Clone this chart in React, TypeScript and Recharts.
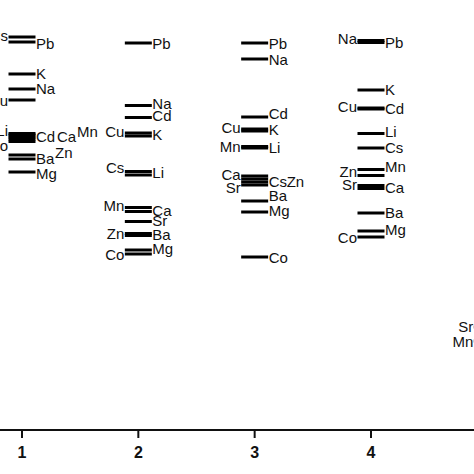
import React from 'react';
import { ScatterChart, Scatter, XAxis, YAxis } from 'recharts';

// x positions of the five groups
const GROUPS = [1, 2, 3, 4, 5];
const X_TICKS = [1, 2, 3, 4, 5];

// element order and relative level per group
const group1Elements = ['Cs', 'Pb', 'K', 'Na', 'Cu', 'Li', 'Mn', 'Cd', 'Ca', 'Co', 'Zn', 'Ba', 'Mg'];
const group1Values = [39.3, 38.8, 35.6, 34.1, 33.0, 29.65, 29.5, 29.3, 29.1, 28.85, 27.5, 27.1, 25.8];

const group2Elements = ['Pb', 'Na', 'Cd', 'Cu', 'K', 'Cs', 'Li', 'Mn', 'Ca', 'Sr', 'Zn', 'Ba', 'Mg', 'Co'];
const group2Values = [38.7, 32.45, 31.25, 29.7, 29.4, 25.85, 25.5, 22.25, 21.85, 20.85, 19.65, 19.45, 18.0, 17.6];

const group3Elements = ['Pb', 'Na', 'Cd', 'Cu', 'K', 'Mn', 'Li', 'Ca', 'Cs', 'Zn', 'Sr', 'Ba', 'Mg', 'Co'];
const group3Values = [38.7, 37.1, 31.3, 30.1, 29.9, 28.35, 28.2, 25.4, 25.1, 24.8, 24.5, 22.9, 21.8, 17.3];

const group4Elements = ['Na', 'Pb', 'K', 'Cu', 'Cd', 'Li', 'Cs', 'Mn', 'Zn', 'Sr', 'Ca', 'Ba', 'Mg', 'Co'];
const group4Values = [38.95, 38.75, 34.0, 32.2, 32.1, 29.65, 28.2, 26.05, 25.45, 24.45, 24.15, 21.7, 19.9, 19.3];

const group5Elements = ['Sr', 'Mn'];
const group5Values = [10.3, 8.9];

const groupElements = [group1Elements, group2Elements, group3Elements, group4Elements, group5Elements];
const groupValues = [group1Values, group2Values, group3Values, group4Values, group5Values];

// label placement: side + small nudges so crowded labels stay readable
type LabelPos = { side?: 'L' | 'R'; dx?: number; dy?: number };
const labelPos: Record<string, LabelPos> = {
  '1:Cs': { side: 'L', dy: -2 },
  '1:Pb': { dy: 1 },
  '1:K': { dy: -1 },
  '1:Na': { dy: -1 },
  '1:Cu': { side: 'L' },
  '1:Li': { side: 'L', dy: -3 },
  '1:Mn': { dx: 41, dy: -4 },
  '1:Cd': { dy: -1 },
  '1:Ca': { dx: 21, dy: -3 },
  '1:Co': { side: 'L', dy: 4 },
  '1:Zn': { dx: 19, dy: -3 },
  '1:Ba': { dy: -1 },
  '1:Mg': { dy: 1 },

  '2:Na': { dy: -2 },
  '2:Cd': { dy: -2 },
  '2:Cu': { side: 'L', dy: -2 },
  '2:K': { dy: -2 },
  '2:Cs': { side: 'L', dy: -4 },
  '2:Li': { dy: -3 },
  '2:Mn': { side: 'L', dy: -2 },
  '2:Ca': { dy: -1 },
  '2:Sr': { dy: -1 },
  '2:Zn': { side: 'L' },
  '2:Ba': { dy: -1 },
  '2:Mg': { dy: -2 },
  '2:Co': { side: 'L' },

  '3:Cd': { dy: -4 },
  '3:Cu': { side: 'L', dy: -2 },
  '3:K': { dy: -2 },
  '3:Mn': { side: 'L' },
  '3:Li': { dy: -1 },
  '3:Ca': { side: 'L', dy: -2 },
  '3:Cs': { dy: 2 },
  '3:Zn': { dx: 18, dy: -1 },
  '3:Sr': { side: 'L', dy: 2 },
  '3:Ba': { dy: -6 },
  '3:Mg': { dy: -2 },

  '4:Na': { side: 'L', dy: -2 },
  '4:K': { dy: -1 },
  '4:Cu': { side: 'L', dy: -2 },
  '4:Cd': { dy: -1 },
  '4:Li': { dy: -2 },
  '4:Cs': { dy: -1 },
  '4:Mn': { dy: -3 },
  '4:Zn': { side: 'L', dy: -4 },
  '4:Sr': { side: 'L', dy: -1 },
  '4:Ca': { dy: -1 },
  '4:Ba': { dy: -1 },
  '4:Mg': { dy: -2 },
  '4:Co': { side: 'L' },

  '5:Sr': { side: 'L', dy: -1 },
  '5:Mn': { side: 'L' },
};

const HALF = 13.5;
const FONT = 'Liberation Sans, Arial, sans-serif';

const Level = (props: any) => {
  const { cx, cy, payload } = props;
  if (cx == null || cy == null) return null;
  const pos = labelPos[`${payload.group}:${payload.name}`] || {};
  const side = pos.side || 'R';
  const dx = pos.dx || 0;
  const dy = pos.dy || 0;
  return (
    <g>
      <line x1={cx - HALF} x2={cx + HALF} y1={cy} y2={cy} stroke="#000" strokeWidth={3} />
      <text
        x={side === 'R' ? cx + HALF + 0.5 + dx : cx - HALF - 0.5 - dx}
        y={cy + dy}
        textAnchor={side === 'R' ? 'start' : 'end'}
        dominantBaseline="central"
        fontFamily={FONT}
        fontSize={15}
        fill="#111"
      >
        {payload.name}
      </text>
    </g>
  );
};

const XTick = (props: any) => {
  const { x, payload } = props;
  return (
    <text
      x={x}
      y={452}
      textAnchor="middle"
      dominantBaseline="central"
      fontFamily={FONT}
      fontSize={16}
      fontWeight="bold"
      fill="#111"
    >
      {payload.value}
    </text>
  );
};

export default function App() {
  const series = GROUPS.map((g, i) =>
    groupElements[i].map((name, j) => ({ x: g, y: groupValues[i][j], name, group: g }))
  );

  return (
    <div style={{ position: 'absolute', left: 0, top: 0, width: 474, height: 474, overflow: 'hidden', background: '#fff' }}>
      <ScatterChart width={600} height={474} margin={{ top: 0, right: 0, bottom: 0, left: 0 }}>
        <XAxis
          type="number"
          dataKey="x"
          domain={[0.8109, 5.9686]}
          ticks={X_TICKS}
          allowDataOverflow
          height={44}
          axisLine={{ stroke: '#111', strokeWidth: 2 }}
          tickLine={{ stroke: '#111', strokeWidth: 2 }}
          tickSize={8}
          tick={<XTick />}
        />
        <YAxis type="number" dataKey="y" domain={[0, 43]} hide />
        {series.map((d, i) => (
          <Scatter key={i} data={d} shape={<Level />} isAnimationActive={false} />
        ))}
      </ScatterChart>
    </div>
  );
}
